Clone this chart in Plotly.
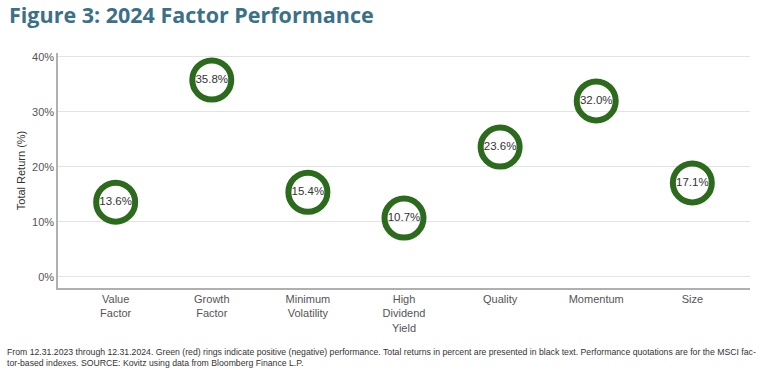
import plotly.graph_objects as go

categories = ["Value<br>Factor", "Growth<br>Factor", "Minimum<br>Volatility",
              "High<br>Dividend<br>Yield", "Quality", "Momentum", "Size"]
returns = [13.6, 35.8, 15.4, 10.7, 23.6, 32.0, 17.1]
labels = [f"{v:.1f}%" for v in returns]
y_ticks = [0, 10, 20, 30, 40]
y_tick_text = [f"{t}%" for t in y_ticks]

title = "Figure 3: 2024 Factor Performance"
footnote = ("From 12.31.2023 through 12.31.2024. Green (red) rings indicate positive (negative) performance. "
            "Total returns in percent are presented in black text. Performance quotations are for the MSCI fac-<br>"
            "tor-based indexes. SOURCE: Kovitz using data from Bloomberg Finance L.P.")

W, H = 768, 385
L, R, T, B = 58, 18, 53, 97
PW, PH = W - L - R, H - T - B

fig = go.Figure()
fig.add_trace(go.Scatter(
    x=list(range(len(categories))), y=returns,
    mode="markers+text",
    text=labels, textposition="middle center",
    textfont=dict(family="Liberation Sans, Arial, sans-serif", size=11.5, color="#333333"),
    marker=dict(symbol="circle-open", size=39, color="#2c6a1d",
                line=dict(width=6, color="#2c6a1d")),
    cliponaxis=False, hoverinfo="skip", showlegend=False,
))

fig.update_layout(
    width=W, height=H,
    margin=dict(l=L, r=R, t=T, b=B, autoexpand=False),
    paper_bgcolor="white", plot_bgcolor="white",
    font=dict(family="Liberation Sans, Arial, sans-serif", color="#555555", size=11),
    xaxis=dict(
        range=[-0.6, 6.6], tickmode="array", automargin=False,
        tickvals=list(range(len(categories))), ticktext=categories,
        showgrid=False, zeroline=False, showline=True, linecolor="#b0b0b0", linewidth=1.5,
        ticks="", tickfont=dict(size=11, color="#555555"),
    ),
    yaxis=dict(
        range=[-2, 40.7], tickmode="array", tickvals=y_ticks, ticktext=y_tick_text,
        automargin=False,
        showgrid=True, gridcolor="#e3e3e3", gridwidth=1, zeroline=False,
        showline=True, linecolor="#b0b0b0", linewidth=1.5, ticks="",
        tickfont=dict(size=11, color="#555555"),
        title=dict(text="Total Return (%)", font=dict(size=11, color="#333333"), standoff=4),
    ),
)

fig.add_annotation(text=f"<b>{title}</b>", xref="paper", yref="paper",
                   x=-(L - 7) / PW, y=1 + (T - 14) / PH, xanchor="left", yanchor="middle",
                   showarrow=False,
                   font=dict(family="Open Sans, sans-serif", size=21.5, color="#3b7089"))
fig.add_annotation(text=footnote, xref="paper", yref="paper",
                   x=-(L - 5) / PW, y=-(345 - (H - B)) / PH, xanchor="left", yanchor="top",
                   align="left", showarrow=False,
                   font=dict(family="Liberation Sans, sans-serif",
                             size=8.7, color="#333333"))

fig.write_html("out.html", config={"displayModeBar": False},
               post_script="document.body.style.margin='0';document.body.style.padding='0';")
